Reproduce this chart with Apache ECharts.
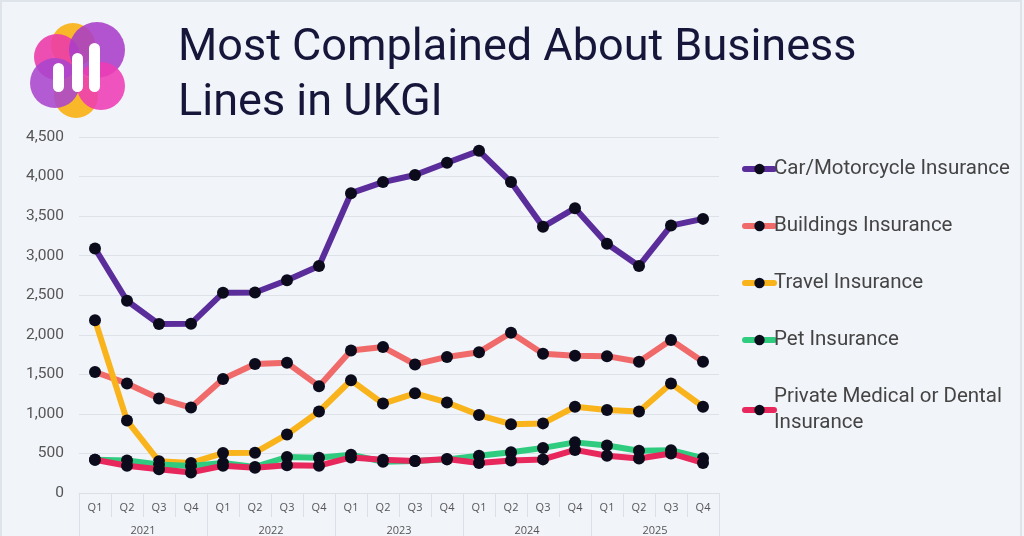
<!DOCTYPE html>
<html>
<head>
<meta charset="utf-8">
<script src="https://cdn.jsdelivr.net/npm/echarts@6/dist/echarts.min.js"></script>
<style>
html,body{margin:0;padding:0;background:#f1f4f9;}
#c{width:1024px;height:536px;}
</style>
</head>
<body>
<div id="c"></div>
<script>
const quarters = ['Q1','Q2','Q3','Q4','Q1','Q2','Q3','Q4','Q1','Q2','Q3','Q4','Q1','Q2','Q3','Q4','Q1','Q2','Q3','Q4'];
const years = ['2021','2022','2023','2024','2025'];
const yTicks = [0,500,1000,1500,2000,2500,3000,3500,4000,4500];
const carMotorcycle = [3090,2430,2135,2140,2530,2535,2690,2870,3790,3930,4020,4175,4325,3930,3365,3600,3150,2870,3380,3465];
const buildings = [1530,1385,1195,1080,1440,1630,1645,1350,1800,1845,1625,1720,1780,2025,1760,1735,1730,1660,1935,1660];
const travel = [2185,915,400,380,505,510,740,1030,1425,1130,1260,1145,985,870,880,1090,1050,1030,1385,1090];
const pet = [420,410,360,340,380,330,455,445,485,395,405,425,470,515,570,640,600,535,540,440];
const privateMedical = [420,345,300,260,345,320,350,345,450,420,405,430,380,410,425,545,470,435,500,380];
const seriesNames = ['Car/Motorcycle Insurance','Buildings Insurance','Travel Insurance','Pet Insurance','Private Medical or Dental\nInsurance'];
const seriesColors = ['#5a2d9b','#f06a6a','#f9b31b','#2fcc80','#e8275c'];

const chart = echarts.init(document.getElementById('c'));
const values = [carMotorcycle, buildings, travel, pet, privateMedical];
const series = values.map((v,i)=>({
  name: seriesNames[i],
  type: 'line',
  data: v,
  xAxisIndex: 0,
  symbol: 'circle',
  symbolSize: 12,
  showAllSymbol: true,
  z: 2+i,
  lineStyle: {width: 6, color: seriesColors[i]},
  itemStyle: {color: '#0b0b1c', borderWidth: 0},
  emphasis: {disabled: true},
  animation: false
}));

const logo = [
  {type:'circle', shape:{cx:73,cy:45,r:22}, style:{fill:'#f9b72a'}},
  {type:'circle', shape:{cx:76,cy:96,r:22}, style:{fill:'#f9b72a'}},
  {type:'circle', shape:{cx:57,cy:57,r:23}, style:{fill:'rgba(236,60,170,0.9)'}},
  {type:'circle', shape:{cx:97,cy:50,r:28}, style:{fill:'rgba(168,60,200,0.88)'}},
  {type:'circle', shape:{cx:55,cy:83,r:25}, style:{fill:'rgba(170,70,205,0.88)'}},
  {type:'circle', shape:{cx:101,cy:86,r:24}, style:{fill:'rgba(238,60,180,0.88)'}},
  {type:'rect', shape:{x:53,y:63,width:11,height:29,r:5.5}, style:{fill:'#ffffff'}},
  {type:'rect', shape:{x:72,y:53,width:11,height:39,r:5.5}, style:{fill:'#ffffff'}},
  {type:'rect', shape:{x:89,y:43,width:11,height:49,r:5.5}, style:{fill:'#ffffff'}}
];

chart.setOption({
  backgroundColor: '#f1f4f9',
  animation: false,
  title: {
    text: 'Most Complained About Business\nLines in UKGI',
    left: 173, top: 16,
    textStyle: {fontFamily: 'Roboto', fontSize: 45, fontWeight: 'normal', color: '#16163a', lineHeight: 55}
  },
  graphic: [
    {type:'rect', shape:{x:1,y:1,width:1020,height:540}, style:{fill:'none', stroke:'#dfe3ea', lineWidth:2}, silent:true, z:-1},
    {type:'group', x:0, y:0, children: logo, silent:true}
  ],
  legend: {
    orient: 'vertical',
    left: 742, top: 156,
    padding: 0,
    itemWidth: 29, itemHeight: 13,
    itemGap: 31,
    lineStyle: {width: 6, cap: 'round'},
    textStyle: {fontFamily: 'Roboto', fontSize: 20.5, color: '#444444', lineHeight: 26, padding: [0,0,0,-5]},
    data: seriesNames
  },
  grid: {left: 79, right: 305, top: 137, bottom: 41, containLabel: false},
  xAxis: [
    {
      type: 'category', data: quarters, position: 'bottom', boundaryGap: true,
      axisLine: {show: true, lineStyle: {color: '#dcdfe5', width: 1}},
      axisTick: {show: true, interval: 0, length: 24, lineStyle: {color: '#dcdfe5'}},
      axisLabel: {interval: 0, margin: 9, fontFamily: 'Open Sans', fontSize: 11, color: '#555555'},
      splitLine: {show: false}
    },
    {
      type: 'category', data: years, position: 'bottom', boundaryGap: true,
      axisLine: {show: false},
      axisTick: {show: true, interval: 0, length: 45, lineStyle: {color: '#dcdfe5'}},
      axisLabel: {interval: 0, margin: 32, fontFamily: 'Open Sans', fontSize: 11, color: '#555555'},
      splitLine: {show: false}
    }
  ],
  yAxis: {
    type: 'value', min: yTicks[0], max: yTicks[yTicks.length-1], interval: 500,
    axisLine: {show: false}, axisTick: {show: false},
    axisLabel: {margin: 15, fontFamily: 'Roboto', fontSize: 15.5, color: '#555555',
      formatter: v => v.toLocaleString('en-US')},
    splitLine: {lineStyle: {color: '#dde1e8', width: 1}}
  },
  series: series
});
</script>
</body>
</html>
